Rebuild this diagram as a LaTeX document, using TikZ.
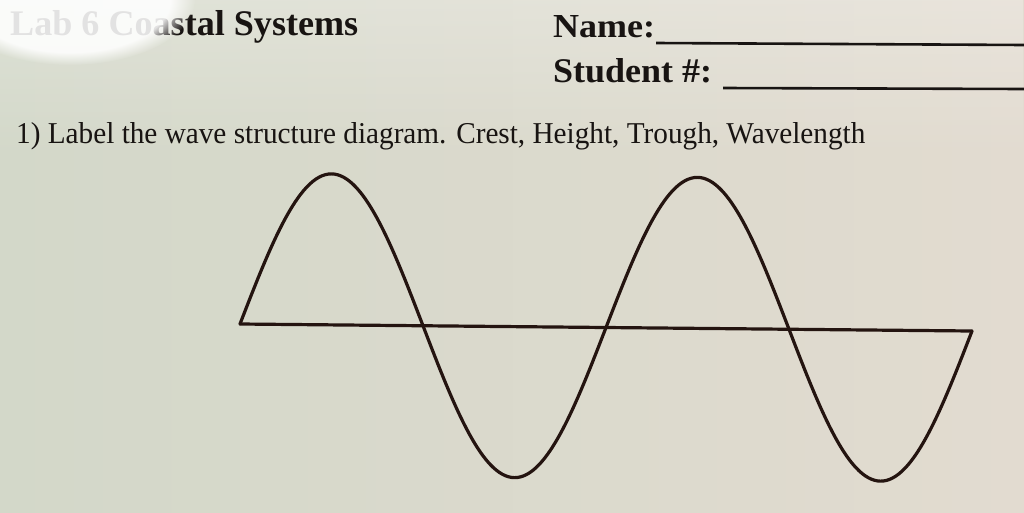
\documentclass[tikz,border=0pt]{standalone}
\usepackage{fontspec}
\setmainfont{Liberation Serif}
\usetikzlibrary{fadings}
\definecolor{bgL}{RGB}{211,216,201}
\definecolor{bgR}{RGB}{226,219,208}
\definecolor{ink}{RGB}{24,20,18}
\definecolor{waveink}{RGB}{36,20,16}
\tikzset{
  lbl/.style={anchor=base west, inner sep=0pt, text=ink},
  wave/.style={draw=waveink, line width=3.2pt, line cap=round, line join=round},
  blank/.style={draw=ink, line width=2.6pt}
}
\begin{document}
\begin{tikzpicture}[x=1pt,y=-1pt]
\useasboundingbox (0,0) rectangle (1024,512);
% background
\shade[left color=bgL, right color=bgR] (0,0) rectangle (1024,512);
\fill[white, opacity=0.25, path fading=south] (0,0) rectangle (1024,160);
% texts
\node[lbl] (title) at (10,35) {\resizebox{348pt}{25pt}{\bfseries Lab 6 Coastal Systems}};
\node[lbl] (name) at (553,37) {\resizebox{102pt}{22pt}{\bfseries Name:}};
\node[lbl] (student) at (553,82) {\resizebox{159pt}{24pt}{\bfseries Student \#:}};
\node[lbl] (task) at (16,143) {\resizebox{849pt}{21pt}{1) Label the wave structure diagram. Crest, Height, Trough, Wavelength}};
% blanks
\coordinate (n1) at (656,43);
\coordinate (n2) at (1024,45);
\coordinate (s1) at (723,88);
\coordinate (s2) at (1024,89);
\draw[blank] (n1) -- (n2);
\draw[blank] (s1) -- (s2);
% glare
\fill[white, opacity=0.88, path fading=circle with fuzzy edge 20 percent] (70,0) ellipse [x radius=125, y radius=65];
% wave
\coordinate (a1) at (240,324);
\coordinate (a2) at (972,331);
\draw[wave] (a1) -- (a2);
\draw[wave] plot[domain=0:720, samples=241, smooth] ({240+1.016667*\x}, {324+0.009722*\x - 151*sin(\x)});
\end{tikzpicture}
\end{document}
